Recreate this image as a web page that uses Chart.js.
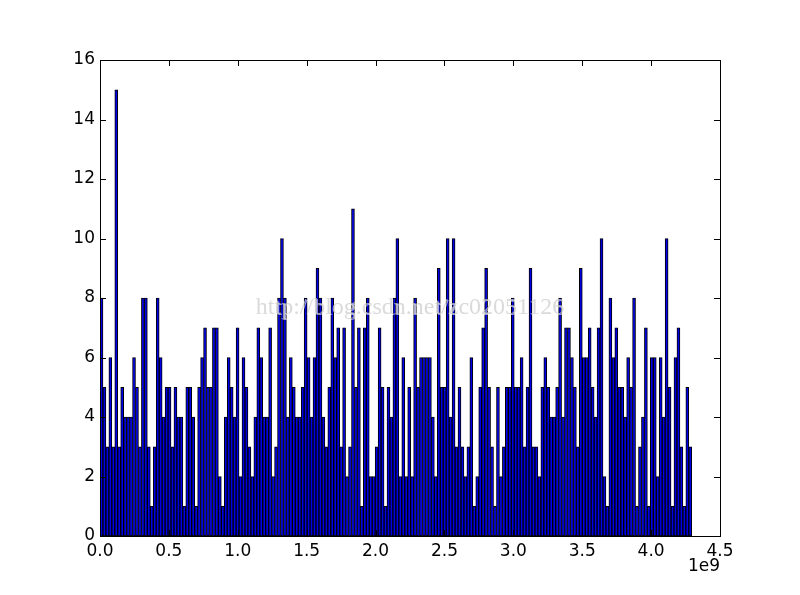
<!DOCTYPE html>
<html>
<head>
<meta charset="utf-8">
<script src="https://cdn.jsdelivr.net/npm/chart.js@4/dist/chart.umd.min.js"></script>
<style>
  body { margin: 0; background: #fff; }
  #chart { display: block; }
</style>
</head>
<body>
<canvas id="chart" width="800" height="595"></canvas>
<script>
// histogram counts, 200 bins, read left to right
const binCounts = [
    8, 5, 3, 6, 3, 15, 3, 5, 4, 4, 4, 6, 5, 3, 8, 8, 3, 1, 3, 8, 6, 4, 5, 5, 3, 5,
    4, 4, 1, 5, 5, 4, 1, 5, 6, 7, 5, 5, 7, 7, 2, 1, 4, 6, 5, 4, 7, 2, 6, 5, 3, 2,
    4, 7, 6, 4, 4, 7, 2, 3, 8, 10, 8, 4, 6, 5, 4, 4, 5, 8, 6, 4, 6, 9, 8, 4, 3, 5,
    8, 6, 7, 3, 7, 2, 3, 11, 5, 7, 1, 7, 8, 2, 2, 3, 7, 5, 1, 5, 4, 8, 10, 2, 6, 2, 5,
    2, 8, 5, 6, 6, 6, 6, 4, 2, 9, 5, 5, 10, 4, 10, 3, 5, 3, 2, 3, 6, 1, 2, 5, 7, 9,
    5, 3, 1, 5, 2, 3, 5, 5, 8, 5, 5, 6, 3, 5, 9, 3, 3, 2, 5, 6, 5, 4, 4, 5, 8, 4, 7,
    7, 6, 5, 3, 9, 6, 6, 7, 5, 4, 7, 10, 2, 1, 8, 6, 7, 5, 5, 4, 6, 5, 8, 1, 3, 4,
    7, 1, 6, 6, 2, 6, 4, 10, 5, 1, 6, 7, 3, 1, 5, 3
];
const dataMin = 0;
const dataMax = 4.295e9;
const xTickValues = [0, 0.5e9, 1.0e9, 1.5e9, 2.0e9, 2.5e9, 3.0e9, 3.5e9, 4.0e9, 4.5e9];
const yTickValues = [0, 2, 4, 6, 8, 10, 12, 14, 16];
const xOffsetLabel = '1e9';
const watermark = 'http://blog.csdn.net/zc02051126';

const binWidth = (dataMax - dataMin) / binCounts.length;
const points = binCounts.map((c, i) => ({ x: dataMin + (i + 0.5) * binWidth, y: c }));

const FONT = 'DejaVu Sans';

// frame, inward ticks, offset text and watermark, matplotlib style
const axesDecor = {
    id: 'axesDecor',
    afterDatasetsDraw(chart) {
        const { ctx, chartArea: a, scales } = chart;
        const len = 6;
        ctx.save();
        ctx.strokeStyle = '#000';
        ctx.lineWidth = 1;
        ctx.beginPath();
        yTickValues.forEach(v => {
            const y = Math.round(scales.y.getPixelForValue(v)) + 0.5;
            ctx.moveTo(a.left, y); ctx.lineTo(a.left + len, y);
            ctx.moveTo(a.right, y); ctx.lineTo(a.right - len, y);
        });
        xTickValues.forEach(v => {
            const x = Math.round(scales.x.getPixelForValue(v)) + 0.5;
            ctx.moveTo(x, a.bottom); ctx.lineTo(x, a.bottom - len);
            ctx.moveTo(x, a.top); ctx.lineTo(x, a.top + len);
        });
        ctx.stroke();
        ctx.strokeRect(Math.round(a.left) + 0.5, Math.round(a.top) + 0.5,
            Math.round(a.right - a.left), Math.round(a.bottom - a.top));
        ctx.restore();
    },
    afterDraw(chart) {
        const { ctx, chartArea: a } = chart;
        ctx.save();
        ctx.fillStyle = '#000';
        ctx.font = '17px "' + FONT + '"';
        ctx.textAlign = 'right';
        ctx.textBaseline = 'top';
        ctx.fillText(xOffsetLabel, a.right, a.bottom + 22);

        ctx.font = '24px "Liberation Serif"';
        ctx.textAlign = 'center';
        ctx.textBaseline = 'middle';
        ctx.fillStyle = 'rgba(255,255,255,0.6)';
        ctx.fillText(watermark, 411, 309);
        ctx.fillStyle = 'rgba(205,205,205,0.75)';
        ctx.fillText(watermark, 410, 308);
        ctx.restore();
    }
};

new Chart(document.getElementById('chart').getContext('2d'), {
    type: 'bar',
    data: {
        datasets: [{
            data: points,
            backgroundColor: '#0000e6',
            borderColor: '#000',
            borderWidth: 1,
            borderSkipped: false,
            barPercentage: 1,
            categoryPercentage: 1
        }]
    },
    options: {
        responsive: false,
        animation: false,
        devicePixelRatio: 1,
        layout: { padding: { left: 0, right: 80, top: 60, bottom: 0 } },
        plugins: {
            legend: { display: false },
            tooltip: { enabled: false }
        },
        scales: {
            x: {
                type: 'linear',
                offset: false,
                min: 0,
                max: 4.5e9,
                grid: { display: false, drawTicks: false },
                border: { display: false },
                afterBuildTicks(scale) {
                    scale.ticks = xTickValues.map(v => ({ value: v }));
                },
                afterFit(scale) { scale.height = 59; },
                ticks: {
                    padding: 5,
                    maxRotation: 0,
                    color: '#000',
                    font: { family: FONT, size: 17 },
                    callback: v => (v / 1e9).toFixed(1)
                }
            },
            y: {
                min: 0,
                max: 16,
                grid: { display: false, drawTicks: false },
                border: { display: false },
                afterBuildTicks(scale) {
                    scale.ticks = yTickValues.map(v => ({ value: v }));
                },
                afterFit(scale) { scale.width = 100; },
                ticks: {
                    padding: 5,
                    color: '#000',
                    font: { family: FONT, size: 17, lineHeight: 1.05 }
                }
            }
        }
    },
    plugins: [axesDecor]
});
</script>
</body>
</html>
